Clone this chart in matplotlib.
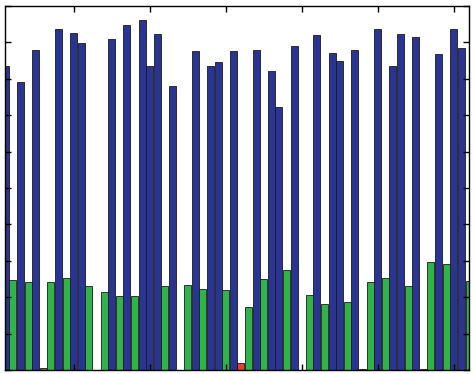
import matplotlib
matplotlib.use("Agg")
import matplotlib.pyplot as plt

# class of each bar, left to right (B = blue, G = green, R = red)
classes = ['B', 'G', 'B', 'G', 'B', 'R', 'G', 'B', 'G', 'B',
           'B', 'G', 'R', 'G', 'B', 'G', 'B', 'G', 'B', 'B',
           'B', 'G', 'B', 'R', 'G', 'B', 'G', 'B', 'B', 'G',
           'B', 'R', 'G', 'B', 'G', 'B', 'B', 'G', 'B', 'R',
           'G', 'B', 'G', 'B', 'B', 'G', 'B', 'R', 'G', 'B',
           'G', 'B', 'B', 'G', 'B', 'R', 'G', 'B', 'G', 'B',
           'B', 'G']

# bar heights
values = [0.835, 0.247, 0.791, 0.242, 0.879, 0.005, 0.242, 0.937, 0.253, 0.926,
          0.898, 0.231, 0.0, 0.214, 0.909, 0.203, 0.948, 0.203, 0.962, 0.835,
          0.924, 0.231, 0.780, 0.0, 0.234, 0.876, 0.223, 0.835, 0.846, 0.220,
          0.876, 0.019, 0.173, 0.879, 0.250, 0.821, 0.723, 0.275, 0.890, 0.0,
          0.206, 0.920, 0.181, 0.871, 0.849, 0.187, 0.879, 0.004, 0.242, 0.937,
          0.253, 0.835, 0.923, 0.231, 0.915, 0.004, 0.297, 0.868, 0.291, 0.937,
          0.885, 0.245]

palette = {'B': '#2a3593', 'G': '#2fb34a', 'R': '#e2402e'}

fig = plt.figure(figsize=(4.74, 3.74), dpi=100)
ax = fig.add_axes([5 / 474, 4 / 374, 464 / 474, 364 / 374])

x = list(range(len(values)))
ax.bar(x, values, width=0.92, color=[palette[c] for c in classes],
       edgecolor='#1a1a1a', linewidth=0.6)

ax.set_xlim(-0.04, 61.0)
ax.set_ylim(0, 1)
ax.set_xticks([9, 19, 29, 39, 49, 59])
ax.set_yticks([i / 10 for i in range(11)])
ax.tick_params(direction='in', length=4, width=1, top=True, right=True,
               labelbottom=False, labelleft=False)
for s in ax.spines.values():
    s.set_linewidth(1.0)

fig.savefig("out.png", dpi=100)
